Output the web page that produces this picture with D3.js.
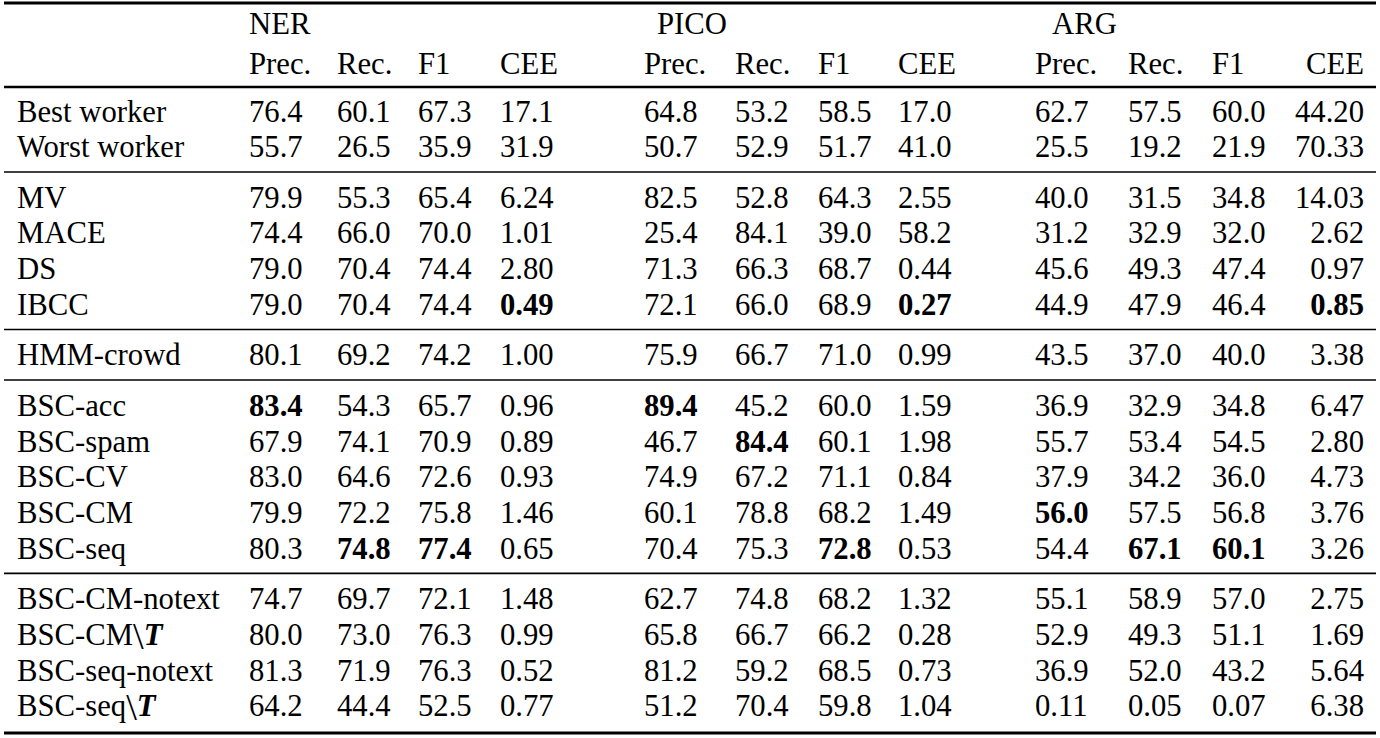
<!DOCTYPE html>
<html><head><meta charset="utf-8">
<script src="https://cdn.jsdelivr.net/npm/d3@7/dist/d3.min.js"></script>
<style>body{margin:0;background:#fff}svg{display:block}text{font-family:"Liberation Serif","Times New Roman",serif;fill:#000}</style>
</head><body><svg id="c" width="1380" height="738"></svg>
<script>
const datasets = ["NER", "PICO", "ARG"];
const metrics = ["Prec.", "Rec.", "F1", "CEE"];
const methods = ["Best worker","Worst worker","MV","MACE","DS","IBCC","HMM-crowd","BSC-acc","BSC-spam","BSC-CV","BSC-CM","BSC-seq","BSC-CM-notext","BSC-CM\\T","BSC-seq-notext","BSC-seq\\T"];
const groups = [0,0,1,1,1,1,2,3,3,3,3,3,4,4,4,4];
const ner = [
 ["76.4","60.1","67.3","17.1"],["55.7","26.5","35.9","31.9"],
 ["79.9","55.3","65.4","6.24"],["74.4","66.0","70.0","1.01"],["79.0","70.4","74.4","2.80"],["79.0","70.4","74.4","0.49"],
 ["80.1","69.2","74.2","1.00"],
 ["83.4","54.3","65.7","0.96"],["67.9","74.1","70.9","0.89"],["83.0","64.6","72.6","0.93"],["79.9","72.2","75.8","1.46"],["80.3","74.8","77.4","0.65"],
 ["74.7","69.7","72.1","1.48"],["80.0","73.0","76.3","0.99"],["81.3","71.9","76.3","0.52"],["64.2","44.4","52.5","0.77"]];
const pico = [
 ["64.8","53.2","58.5","17.0"],["50.7","52.9","51.7","41.0"],
 ["82.5","52.8","64.3","2.55"],["25.4","84.1","39.0","58.2"],["71.3","66.3","68.7","0.44"],["72.1","66.0","68.9","0.27"],
 ["75.9","66.7","71.0","0.99"],
 ["89.4","45.2","60.0","1.59"],["46.7","84.4","60.1","1.98"],["74.9","67.2","71.1","0.84"],["60.1","78.8","68.2","1.49"],["70.4","75.3","72.8","0.53"],
 ["62.7","74.8","68.2","1.32"],["65.8","66.7","66.2","0.28"],["81.2","59.2","68.5","0.73"],["51.2","70.4","59.8","1.04"]];
const arg = [
 ["62.7","57.5","60.0","44.20"],["25.5","19.2","21.9","70.33"],
 ["40.0","31.5","34.8","14.03"],["31.2","32.9","32.0","2.62"],["45.6","49.3","47.4","0.97"],["44.9","47.9","46.4","0.85"],
 ["43.5","37.0","40.0","3.38"],
 ["36.9","32.9","34.8","6.47"],["55.7","53.4","54.5","2.80"],["37.9","34.2","36.0","4.73"],["56.0","57.5","56.8","3.76"],["54.4","67.1","60.1","3.26"],
 ["55.1","58.9","57.0","2.75"],["52.9","49.3","51.1","1.69"],["36.9","52.0","43.2","5.64"],["0.11","0.05","0.07","6.38"]];
// bold cells: [dataset, row, metric]
const bold = [["NER",5,3],["PICO",5,3],["ARG",5,3],["NER",7,0],["PICO",7,0],["PICO",8,1],["ARG",10,0],
 ["NER",11,1],["NER",11,2],["PICO",11,2],["ARG",11,1],["ARG",11,2]];

const svg = d3.select("#c");
const fs = 30.7;
const table = {NER: ner, PICO: pico, ARG: arg};
const yIdx = d3.scaleLinear().domain([0, 15]).range([0, 15*35.7]);
const yGap = d3.scaleLinear().domain([0, 4]).range([0, 4*14.8]);
const rowY = i => 111 + yIdx(i) + yGap(groups[i]);
const colX = d3.scaleOrdinal().domain(["NER|0","NER|1","NER|2","NER|3","PICO|0","PICO|1","PICO|2","PICO|3","ARG|0","ARG|1","ARG|2","ARG|3"])
  .range([249,337,418,500,644,735,818,898,1035,1128,1212,1364]);
const headX = d3.scaleOrdinal().domain(datasets).range([249,657,1052]);
const isBold = (d,r,m) => bold.some(b => b[0]===d && b[1]===r && b[2]===m);
const base = 10.5;

const rules = [{y:3,w:3.2},{y:87,w:2.6},{y:(rowY(1)+rowY(2))/2,w:1.6},{y:(rowY(5)+rowY(6))/2,w:1.6},{y:(rowY(6)+rowY(7))/2,w:1.6},{y:(rowY(11)+rowY(12))/2,w:1.6},{y:733,w:3.2}];
svg.selectAll("line.r").data(rules).join("line").attr("x1",4).attr("x2",1376)
  .attr("y1",d=>d.y).attr("y2",d=>d.y).attr("stroke","#000").attr("stroke-width",d=>d.w);

svg.selectAll("text.h").data(datasets).join("text").attr("x",d=>headX(d)).attr("y",23+base).attr("font-size",fs).text(d=>d);
datasets.forEach(ds=>{
  metrics.forEach((m,mi)=>{
    const right = ds==="ARG" && mi===3;
    svg.append("text").attr("x",colX(ds+"|"+mi)).attr("y",63+base).attr("font-size",fs)
      .attr("text-anchor", right?"end":"start").text(m);
  });
});

svg.selectAll("text.m").data(methods).join("text").attr("x",17).attr("y",(d,i)=>rowY(i)+base).attr("font-size",fs)
  .each(function(d){
    const t = d3.select(this);
    if (d.includes("\\T")) {
      t.append("tspan").text(d.replace("\\T",""));
      t.append("tspan").attr("font-size",fs*1.25).attr("dy",4).text("\\");
      t.append("tspan").attr("dy",-4).attr("font-weight","bold").attr("font-style","italic").text("T");
    } else t.text(d);
  });

datasets.forEach(ds=>{
  table[ds].forEach((row,ri)=>{
    row.forEach((v,mi)=>{
      const right = ds==="ARG" && mi===3;
      svg.append("text").attr("x",colX(ds+"|"+mi)).attr("y",rowY(ri)+base).attr("font-size",fs)
        .attr("text-anchor", right?"end":"start")
        .attr("font-weight", isBold(ds,ri,mi)?"bold":"normal").text(v);
    });
  });
});
</script></body></html>
